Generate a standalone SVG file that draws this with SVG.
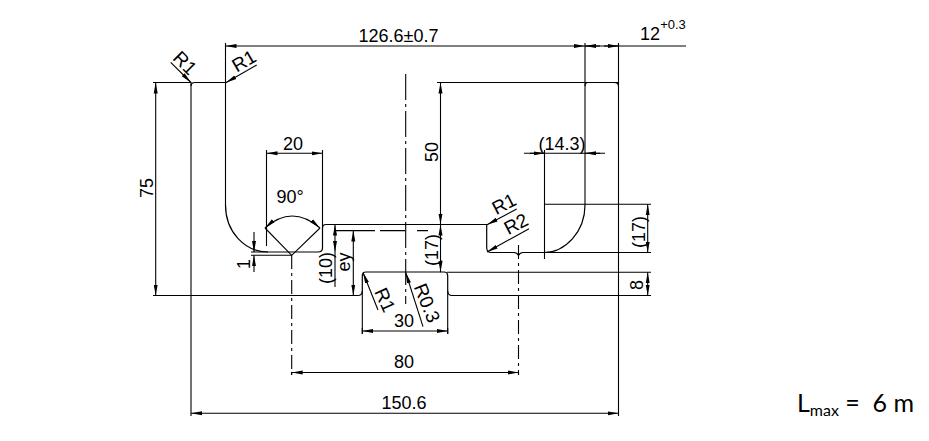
<svg xmlns="http://www.w3.org/2000/svg" width="929" height="441" viewBox="0 0 929 441">
<style>
.l{fill:none;stroke:#000;stroke-width:1.2}
.t{stroke-width:1.1}
.c{stroke-dasharray:26 4 3 4}
.c2{stroke-dasharray:14 4 3 4}
.a{marker-end:url(#ah)}
.b{marker-start:url(#as);marker-end:url(#ah)}
text{font-family:"Liberation Sans",Arial,sans-serif;font-size:18px;fill:#000;text-anchor:middle}
.r{font-size:19px}
.L{font-family:Lato,"Noto Sans",sans-serif;font-size:25px}
.s{font-size:13px}
</style>
<defs>
<marker id="ah" markerUnits="userSpaceOnUse" markerWidth="12" markerHeight="6" refX="11" refY="3" orient="auto"><path d="M0 1 L11 3 L0 5z" fill="#000"/></marker>
<marker id="as" markerUnits="userSpaceOnUse" markerWidth="12" markerHeight="6" refX="1" refY="3" orient="auto"><path d="M12 1 L1 3 L12 5z" fill="#000"/></marker>
</defs>
<rect width="929" height="441" fill="#fff"/>
<g id="profile" class="l">
<path d="M191 86 Q191 82.5 195 82.5 H225.5"/>
<path d="M225.5 205 C225.5 232 245 252 268 252 H318 Q322.5 252 322.5 248 V228 Q322.5 224.5 326 224.5 H486.7 V248 Q487 252.5 491 252.5 H514 Q517 252.5 518.5 255.5 Q520 252.5 523 252.5 H544 C565 252.5 585 232 585 205"/>
<path d="M585 86 Q585 82.5 588 82.5 H614 Q618.5 82.5 618.5 86"/>
<path d="M153 295.5 H358 Q362 295.5 362.3 291 V276 Q362.3 272 366 272 H444 Q447.7 272 447.7 276 V291 Q448 295.5 452 295.5 H651"/>
</g>
<g id="extensions" class="l t">
<path d="M191 82 V416 M225.5 43 V205 M585 43 V205 M618.5 43 V416"/>
<path d="M153 82.5 H191 M437 82.5 H618.5"/>
<path d="M266.5 150 V246 M322.5 150 V230"/>
<path d="M251 255.3 H291.5 M251 252 H268"/>
<path d="M544.5 150 V259 M544.5 204.3 H651 M544 252.5 H651 M447 272.3 H651"/>
<path d="M362.3 291 V334 M447.7 291 V334"/>
<path d="M326 224.5 H339 M335 230.6 H375 M380 230.6 H405 M417 230.6 H428"/>
<path d="M291.5 375 V372 M518.5 375 V372"/>
</g>
<g id="centerlines" class="l t">
<path class="c" d="M405.7 74 V304"/>
<path class="c2" d="M291.7 255 V375"/>
<path class="c2" d="M518.5 245 V375"/>
</g>
<g id="dimensions" class="l t">
<path class="b" d="M225.5 46 H585"/>
<path d="M585 46 H618.5 M618.5 46 H686"/>
<path class="a" d="M600 46 H585"/>
<path class="a" d="M604 46 H618.5"/>
<path class="b" d="M155.7 82.5 V295.5"/>
<path class="b" d="M440.5 82.5 V224.5"/>
<path class="b" d="M440.5 224.5 V272.3"/>
<path class="b" d="M647.7 204.3 V252.5"/>
<path class="b" d="M647.7 272.3 V295.5"/>
<path class="b" d="M266.5 153.3 H322.5"/>
<path d="M524 153.3 H605"/>
<path class="a" d="M530 153.3 H544.5"/>
<path class="a" d="M600 153.3 H585"/>
<path class="b" d="M335 224.5 V252"/>
<path d="M335 252 V287"/>
<path class="b" d="M353.3 230.6 V295.5"/>
<path class="a" d="M254 232 V252"/>
<path class="a" d="M254 272 V255.3"/>
<path class="b" d="M265 228 Q292 204 320 228"/>
<path d="M265 228 L291.7 255.3 L320 228"/>
<path class="b" d="M362.3 331 H447.7"/>
<path d="M362.3 328 V334 M447.7 328 V334"/>
<path class="b" d="M291.7 372.5 H518.5"/>
<path class="b" d="M191 413.3 H618.5"/>
<path class="a" d="M170.7 62.3 L191 82.5"/>
<path class="a" d="M256.7 65 L225.8 82.8"/>
<path class="a" d="M516.7 209 L487 224.8"/>
<path class="a" d="M529 228.7 L487 252"/>
<path class="a" d="M378 310 L363 272.5"/>
<path class="a" d="M423 326.7 L405.7 272.5"/>
</g>
<g id="labels">
<text x="398.5" y="42">126.6±0.7</text>
<text x="650" y="39.5">12</text>
<text class="s" x="673" y="28.5">+0.3</text>
<text class="r" transform="translate(185 63) rotate(45)" y="6.5">R1</text>
<text class="r" transform="translate(244 61) rotate(-30)" y="6.5">R1</text>
<text x="293" y="150">20</text>
<text x="562" y="150">(14.3)</text>
<text x="290" y="203">90°</text>
<text transform="translate(146 188) rotate(-90)" y="6.5">75</text>
<text transform="translate(431 152) rotate(-90)" y="6.5">50</text>
<text transform="translate(431 250) rotate(-90)" y="6.5">(17)</text>
<text transform="translate(638 232) rotate(-90)" y="6.5">(17)</text>
<text transform="translate(636.5 285) rotate(-90)" y="6.5">8</text>
<text transform="translate(325 268) rotate(-90)" y="6.5">(10)</text>
<text transform="translate(343.5 262) rotate(-90)" y="6.5">ey</text>
<text transform="translate(243 264) rotate(-90)" y="6.5">1</text>
<text class="r" transform="translate(504 204) rotate(-27)" y="6.5">R1</text>
<text class="r" transform="translate(516 224) rotate(-27)" y="6.5">R2</text>
<text class="r" transform="translate(385 300) rotate(66)" y="6.5">R1</text>
<text class="r" transform="translate(427 303) rotate(68)" y="6.5">R0.3</text>
<text x="404" y="327">30</text>
<text x="404" y="368">80</text>
<text x="404" y="409">150.6</text>
<text class="L" x="855.5" y="411.5" xml:space="preserve">L<tspan font-size="16" dy="4">max</tspan><tspan dy="-4"> =  6 m</tspan></text>
</g>
</svg>
